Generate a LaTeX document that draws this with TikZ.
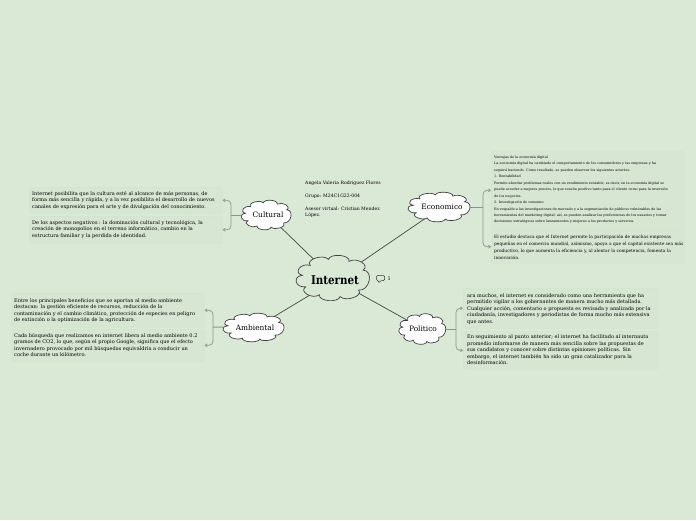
\documentclass[tikz,border=0pt]{standalone}
\usepackage{fontspec}
\setmainfont{DejaVu Serif}
\usetikzlibrary{arrows.meta}
\pgfdeclarelayer{links}
\pgfdeclarelayer{clouds}
\pgfsetlayers{links,clouds,main}
\definecolor{bg}{HTML}{DAE8D6}
\definecolor{boxc}{HTML}{D6E6D2}
\definecolor{boxl}{HTML}{D2E4CE}
\definecolor{edgec}{HTML}{3F4A3F}
\definecolor{brk}{HTML}{8A968A}
\newcommand{\puffy}[5]{% cx cy rx ry fill
  \draw[draw=black!75,line width=.7pt,fill=#5,shift={(#1,#2)}]
    (25:.82*#3pt and .82*#4pt)
    \foreach \a/\b [evaluate=\a as \ca using \a+.12*(\b-\a), evaluate=\a as \cb using \b-.12*(\b-\a)]
      in {25/62,62/100,100/138,138/172,172/208,208/243,243/281,281/320,320/385}
    { .. controls (\ca:1.08*#3pt and 1.1*#4pt) and (\cb:1.08*#3pt and 1.1*#4pt) .. (\b:.82*#3pt and .82*#4pt) }
    -- cycle;}
\tikzset{
  x=1pt,y=-1pt,
  cl/.style={inner sep=0pt,font=\fontsize{7.4}{9}\selectfont,text=black},
  rootc/.style={inner sep=0pt,font=\fontsize{12}{14}\selectfont\bfseries,text=black,xscale=.86,transform shape},
  tb/.style={draw=boxl,line width=.6pt,fill=boxc,rounded corners=3pt,minimum width=193pt,inner sep=0pt,anchor=north west},
  txt/.style={anchor=north west,inner sep=0pt,align=left,text=black},
  big/.style={txt,font=\fontsize{5}{6.5}\selectfont},
  small/.style={txt,font=\fontsize{4.35}{6.9}\selectfont},
  tiny/.style={txt,font=\fontsize{3.4}{6.45}\selectfont},
  link/.style={draw=edgec,line width=.7pt},
  brack/.style={draw=brk,line width=.7pt,-{Straight Barb[length=2pt,width=3pt]},rounded corners=4pt}
}
\begin{document}
\begin{tikzpicture}
\begin{pgfonlayer}{links}
\fill[bg] (0,0) rectangle (696,520);
\end{pgfonlayer}
\useasboundingbox (0,0) rectangle (696,520);
% clouds
\begin{pgfonlayer}{clouds}
\puffy{334}{278}{39}{23}{bg}
\puffy{267}{215}{26.5}{15}{white}
\puffy{440}{207}{33}{15}{white}
\puffy{254.5}{327.5}{32.5}{14.5}{white}
\puffy{423}{329}{25}{15.5}{white}
\end{pgfonlayer}
\node[rootc] (root) at (335,280) {Internet};
\node[cl] (cul) at (268,215) {Cultural};
\node[cl] (eco) at (442,207) {Economico};
\node[cl] (amb) at (255,328) {Ambiental};
\node[cl] (pol) at (423,329) {Politico};
\begin{pgfonlayer}{links}
\draw[link] (root) -- (cul);
\draw[link] (root) -- (eco);
\draw[link] (root) -- (amb);
\draw[link] (root) -- (pol);
\end{pgfonlayer}
% boxes
\node[tb,minimum height=26pt] (c1) at (29,187) {};
\node[tb,minimum height=27pt] (c2) at (29,216) {};
\node[tb,minimum height=78pt] (e1) at (491,151) {};
\node[tb,minimum height=33pt] (e2) at (491,230) {};
\node[tb,minimum height=34pt] (a1) at (11,293) {};
\node[tb,minimum height=32pt] (a2) at (11,329) {};
\node[tb,minimum width=195pt,minimum height=40pt] (p1) at (463,288) {};
\node[tb,minimum width=195pt,minimum height=38pt] (p2) at (463,331) {};
% brackets
\coordinate (cj) at (231,215);
\coordinate (ej) at (483,207);
\coordinate (aj) at (213,327);
\coordinate (pj) at (456,329);
\begin{pgfonlayer}{links}
\draw[brk,line width=1pt] (cul.center) -- (cj);
\draw[brk,line width=1pt] (eco.center) -- (ej);
\draw[brk,line width=1pt] (amb.center) -- (aj);
\draw[brk,line width=1pt] (pol.center) -- (pj);
\end{pgfonlayer}
\draw[brack] (cj) |- (c1.east);
\draw[brack] (cj) |- (c2.east);
\draw[brack] (ej) |- (e1.west);
\draw[brack] (ej) |- (e2.west);
\draw[brack] (aj) |- (a1.east);
\draw[brack] (aj) |- (a2.east);
\draw[brack] (pj) |- (p1.west);
\draw[brack] (pj) |- (p2.west);
% texts
\node[big] (t1) at (32,191) {Internet posibilita que la cultura esté al alcance de más personas, de\\forma más sencilla y rápida, y a la vez posibilita el desarrollo de nuevos\\canales de expresión para el arte y de divulgación del conocimiento.};
\node[big] (t2) at (32,220) {De los aspectos negativos : la dominación cultural y tecnológica, la\\creación de monopolios en el terreno informático, cambio en la\\estructura familiar y la perdida de identidad.};
\node[big] (t3) at (14,298) {Entre los principales beneficios que se aportan al medio ambiente\\destacan: la gestión eficiente de recursos, reducción de la\\contaminación y el cambio climático, protección de especies en peligro\\de extinción o la optimización de la agricultura.};
\node[big] (t4) at (14,333) {Cada búsqueda que realizamos en internet libera al medio ambiente 0.2\\gramos de CO2, lo que, según el propio Google, significa que el efecto\\invernadero provocado por mil búsquedas equivaldría a conducir un\\coche durante un kilómetro.};
\node[big] (t5) at (467,293) {ara muchos, el internet es considerado como una herramienta que ha\\permitido vigilar a los gobernantes de manera mucho más detallada.\\Cualquier acción, comentario o propuesta es revisada y analizada por la\\ciudadanía, investigadores y periodistas de forma mucho más extensiva\\que antes.};
\node[big] (t6) at (467,334.5) {En seguimiento al punto anterior; el internet ha facilitado al internauta\\promedio informarse de manera más sencilla sobre las propuestas de\\sus candidatos y conocer sobre distintas opiniones políticas. Sin\\embargo, el internet también ha sido un gran catalizador para la\\desinformación.};
\node[small] (t7) at (494,235) {El estudio destaca que el Internet permite la participación de muchas empresas\\pequeñas en el comercio mundial, asimismo, apoya a que el capital existente sea más\\productivo, lo que aumenta la eficiencia y, al alentar la competencia, fomenta la\\innovación.};
\node[tiny] (t8) at (494,155.5) {Ventajas de la economía digital\\La economía digital ha cambiado el comportamiento de los consumidores y las empresas y ha\\seguirá haciendo. Como resultado, se pueden observar los siguientes aciertos:\\1. Rentabilidad\\Permite abordar problemas reales con un rendimiento rentable, es decir, en la economía digital se\\puede acceder a mejores precios, lo que resulta positivo tanto para el cliente como para la inversión\\de los negocios.\\2. Investigación de consumo\\En respaldo a las investigaciones de mercado y a la segmentación de públicos vulnérables de las\\herramientas del marketing digital; así, se pueden analizar las preferencias de los usuarios y tomar\\decisiones estratégicas sobre lanzamientos y mejoras a los productos y servicios.};
\node[txt,font=\fontsize{4.6}{6.3}\selectfont] (t9) at (305,180.5) {Angela Valeria Rodriguez Flores\\[6.7pt]Grupo: M24C1G22-004\\[6.7pt]Asesor virtual: Cristian Mendez\\López.};
% comment icon
\draw[black!80,line width=.5pt,rounded corners=1pt] (376.5,275.5) -- (384.5,275.5) -- (384.5,280.5) -- (381,280.5) -- (378.5,283) -- (378.5,280.5) -- (376.5,280.5) -- cycle;
\node[anchor=west,inner sep=0pt,font=\fontsize{5}{6}\selectfont] (cnt) at (387.5,278.5) {1};
\end{tikzpicture}
\end{document}
